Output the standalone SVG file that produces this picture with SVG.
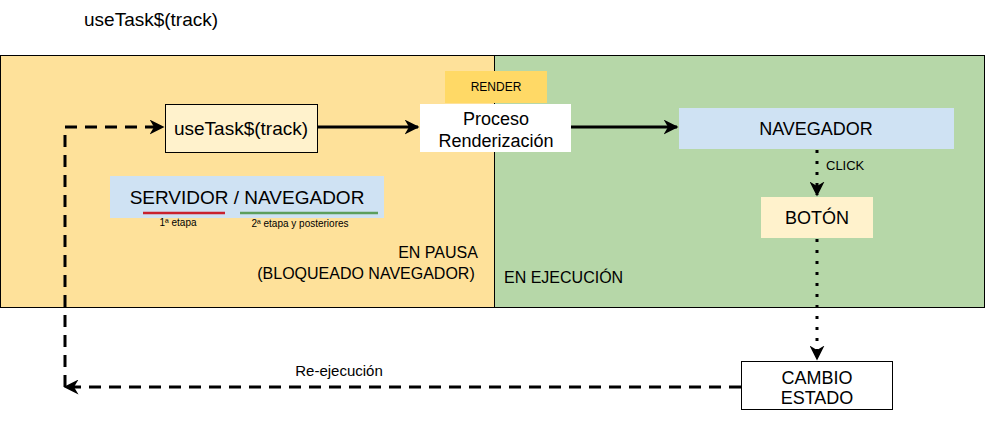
<svg xmlns="http://www.w3.org/2000/svg" width="986" height="435" viewBox="0 0 986 435">
<style>
text{font-family:"Liberation Sans",Arial,sans-serif;fill:#000}
.c{stroke:#000;stroke-width:3;fill:none}
</style>
<defs>
<marker id="a" viewBox="0 0 10 10" refX="9" refY="5" markerWidth="5" markerHeight="5" orient="auto"><path d="M0,0 L10,5 L0,10 L3,5z" fill="#000"/></marker>
</defs>
<rect width="986" height="435" fill="#fff"/>
<text x="84" y="26" font-size="19">useTask$(track)</text>
<g id="pausa"><rect x="0.5" y="55.5" width="494" height="252" fill="#fee19a" stroke="#000"/>
<text x="438" y="258" font-size="16" text-anchor="middle">EN PAUSA</text>
<text x="366" y="279" font-size="16" text-anchor="middle">(BLOQUEADO NAVEGADOR)</text></g>
<g id="ejecucion"><rect x="494.5" y="55.5" width="490" height="252" fill="#b6d7a8" stroke="#000"/>
<text x="504" y="283" font-size="16">EN EJECUCIÓN</text></g>
<g id="servidor"><rect x="110" y="176" width="274" height="42" fill="#cfe2f3"/>
<text x="247" y="204" font-size="19" text-anchor="middle">SERVIDOR / NAVEGADOR</text>
<line x1="143" y1="213" x2="225" y2="213" stroke="#c9212d" stroke-width="2.5"/>
<line x1="240" y1="213" x2="378" y2="213" stroke="#5c9e5c" stroke-width="2.5"/>
<text x="178" y="226" font-size="10" text-anchor="middle">1ª etapa</text>
<text x="300" y="227" font-size="10" text-anchor="middle">2ª etapa y posteriores</text></g>
<g id="usetask"><rect x="165.5" y="104.5" width="152" height="48" fill="#fff2cc" stroke="#000"/>
<text x="241" y="135" font-size="19" text-anchor="middle">useTask$(track)</text></g>
<g id="render"><rect x="445" y="71" width="102" height="32" fill="#ffd966"/>
<text x="496" y="91" font-size="12" text-anchor="middle">RENDER</text></g>
<g id="proceso"><rect x="420" y="104" width="151" height="48" fill="#fff"/>
<text x="496" y="125" font-size="18" text-anchor="middle">Proceso</text>
<text x="496" y="147" font-size="18" text-anchor="middle">Renderización</text></g>
<g id="navegador"><rect x="679" y="108" width="275" height="41" fill="#cfe2f3"/>
<text x="816" y="135" font-size="18" text-anchor="middle">NAVEGADOR</text></g>
<g id="boton"><rect x="761" y="197" width="112" height="41" fill="#fff2cc"/>
<text x="817" y="224" font-size="18" text-anchor="middle">BOTÓN</text></g>
<g id="cambio"><rect x="741.5" y="361.5" width="151" height="48" fill="#fff" stroke="#000"/>
<text x="817" y="384" font-size="18" text-anchor="middle">CAMBIO</text>
<text x="817" y="404" font-size="18" text-anchor="middle">ESTADO</text></g>
<g id="connectors">
<line class="c" x1="317" y1="127" x2="418" y2="127" marker-end="url(#a)"/>
<line class="c" x1="571" y1="127" x2="677" y2="127" marker-end="url(#a)"/>
<line class="c" x1="817" y1="150" x2="817" y2="195" stroke-dasharray="3 8" marker-end="url(#a)"/>
<text x="826" y="170" font-size="13">CLICK</text>
<line class="c" x1="817" y1="239" x2="817" y2="359" stroke-dasharray="3 8" marker-end="url(#a)"/>
<polyline class="c" points="741,387 65,387" stroke-dasharray="12 8" marker-end="url(#a)"/>
<polyline class="c" points="65,387 65,127 163,127" stroke-dasharray="12 8" marker-end="url(#a)"/>
<text x="339" y="376" font-size="15" text-anchor="middle">Re-ejecución</text>
</g>
</svg>
